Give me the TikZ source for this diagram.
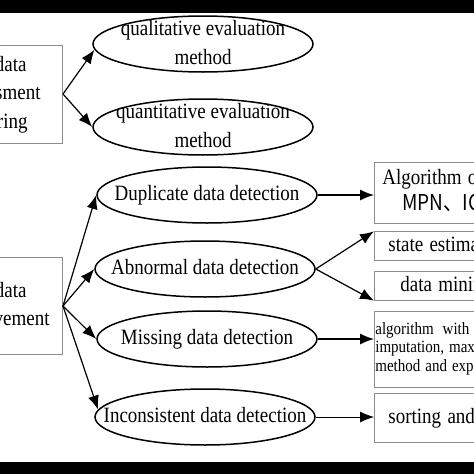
\documentclass[tikz,border=0pt]{standalone}
\usepackage{graphicx}
\usepackage{fontspec}
\setmainfont{Liberation Serif}
\newfontfamily\cjk{Noto Sans CJK SC}
\usetikzlibrary{shapes.geometric,arrows.meta}

% taller letters, as in the reference
\newcommand{\stretchc}[1]{\scalebox{1}[1.15]{\begin{tabular}{@{}c@{}}#1\end{tabular}}}
\newcommand{\stretchl}[1]{\scalebox{1}[1.15]{\begin{tabular}{@{}l@{}}#1\end{tabular}}}
\newcommand{\stretchr}[1]{\scalebox{1}[1.15]{\begin{tabular}{@{}r@{}}#1\end{tabular}}}

\tikzset{
	oval/.style={draw, ellipse, line width=1.5pt, minimum width=220pt, minimum height=56pt, inner sep=0pt},
	txt/.style={font=\fontsize{19}{26}\selectfont, inner sep=0pt},
	box/.style={draw=gray!90, line width=0.8pt, rectangle, fill=white, font=\fontsize{19}{24.8}\selectfont},
	rbox/.style={box, anchor=west, text width=150pt, inner xsep=5pt, inner ysep=0pt, align=left},
	arr/.style={-{Latex[length=14pt,width=11pt]}, line width=1.2pt},
}

\begin{document}
\begin{tikzpicture}[x=1pt,y=-1pt]
	\useasboundingbox (0,0) rectangle (474,474);
	\clip (0,0) rectangle (474,474);
	\fill[white] (0,0) rectangle (474,474);
	\fill[black] (0,0) rectangle (474,13);
	\fill[black] (0,462) rectangle (474,474);
	% left boxes
	\node[box, anchor=east, text width=140pt, minimum height=98pt, align=right, inner xsep=22pt] (assess) at (63,94) {\stretchr{data\hspace*{14pt}\\ssment\\ring\hspace*{13pt}}};
	\node[box, anchor=east, text width=140pt, minimum height=97pt, align=right, inner xsep=13pt] (improve) at (63,306) {\stretchr{data\hspace*{23pt}\\vement}};
	% evaluation methods
	\node[oval, label={[txt]center:\stretchc{qualitative evaluation\\method}}] (qual) at (203,44) {};
	\node[oval, label={[txt]center:\stretchc{quantitative evaluation\\method}}] (quan) at (203,127) {};
	% detection
	\node[oval, label={[txt]center:\stretchc{Duplicate data detection}}] (dup) at (207,195) {};
	\node[oval, label={[txt]center:\stretchc{Abnormal data detection}}] (abn) at (205,269) {};
	\node[oval, label={[txt]center:\stretchc{Missing data detection}}] (mis) at (207,339) {};
	\node[oval, label={[txt]center:\stretchc{Inconsistent data detection}}] (inc) at (205,417) {};
	% right boxes
	\node[rbox, minimum height=61pt, font=\fontsize{19}{22}\selectfont] (algo) at (374,192.5) {\stretchl{\hspace*{3pt}Algorithm of\\\hspace*{23pt}{\cjk MPN、ICA}}};
	\node[rbox, minimum height=24pt] (state) at (374,246) {\stretchl{\hspace*{9pt}state estimation}};
	\node[rbox, minimum height=24pt] (mining) at (374,286) {\stretchl{\hspace*{21pt}data mining}};
	\node[rbox, minimum height=76pt, inner xsep=1pt, font=\fontsize{15}{16}\selectfont] (impute) at (374,349) {\stretchl{algorithm\hspace{9pt}with\\imputation, maximum\\method and expectation}};
	\node[rbox, minimum height=49pt] (sort) at (374,417.5) {\stretchl{\hspace*{9pt}sorting and}};
	% connectors
	\draw[arr] (assess.east) -- (qual.183);
	\draw[arr] (assess.east) -- (quan.west);
	\draw[arr] (improve.east) -- (dup.west);
	\draw[arr] (improve.east) -- (abn.west);
	\draw[arr] (improve.east) -- (mis.west);
	\draw[arr] (improve.east) -- (inc.176);
	\draw[arr] (dup.east) -- (dup.east -| algo.west);
	\draw[arr] (abn.east) -- (state.north west);
	\draw[arr] (abn.east) -- (mining.south west);
	\draw[arr] (mis.east) -- (mis.east -| impute.west);
	\draw[arr, line width=0.8pt] (inc.east) -- (inc.east -| sort.west);
\end{tikzpicture}
\end{document}
